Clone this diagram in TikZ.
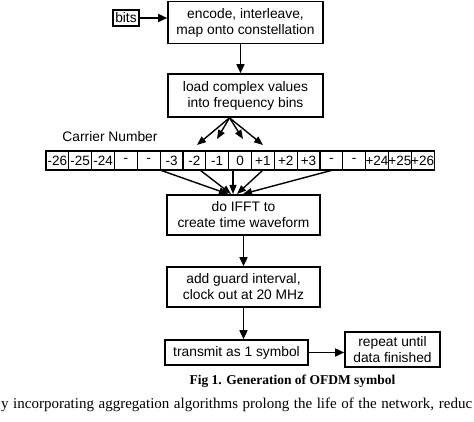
\documentclass[tikz,border=0pt]{standalone}
\usepackage{fontspec}
\setmainfont{Liberation Sans}
\newfontfamily\capfont{Liberation Serif}
\usetikzlibrary{arrows.meta,calc}
\tikzset{
  box/.style={draw, line width=1.6pt, align=center, inner sep=0pt, font=\fontsize{13.8}{16}\selectfont},
  cell/.style={draw, line width=1.2pt, minimum width=22.83pt, minimum height=19pt, inner sep=0pt, font=\fontsize{13.5}{15}\selectfont},
  arr/.style={line width=1.6pt, -{Triangle[length=9pt,width=8pt]}},
  fan/.style={line width=1.4pt, -{Triangle[length=9pt,width=7pt]}}
}
\begin{document}
\begin{tikzpicture}[x=1pt,y=-1pt]
\useasboundingbox (0,0) rectangle (474,422);
\fill[white] (0,0) rectangle (474,422);

\node[box, minimum width=26pt, minimum height=16pt, line width=1.3pt] (bits) at (126,18) {bits};
\node[box, minimum width=155pt, minimum height=42pt] (encode) at (245.5,22.5) {encode, interleave,\\map onto constellation};
\node[box, minimum width=155pt, minimum height=43pt] (load) at (245.5,95.5) {load complex values\\into frequency bins};
\node[box, minimum width=153pt, minimum height=40pt] (ifft) at (243.5,215) {do IFFT to\\create time waveform};
\node[box, minimum width=153pt, minimum height=40pt] (guard) at (243.5,287) {add guard interval,\\clock out at 20 MHz};
\node[box, minimum width=143pt, minimum height=25pt] (transmit) at (236.5,352.5) {transmit as 1 symbol};
\node[box, minimum width=95pt, minimum height=35pt] (repeat) at (392.5,349.5) {repeat until\\data finished};

\node[font=\fontsize{13.8}{16}\selectfont] (cn) at (110,137) {Carrier Number};

\foreach \lab [count=\i] in {-26,-25,-24,-,-,-3,-2,-1,0,+1,+2,+3,\raisebox{-0.45ex}{-},\raisebox{-0.45ex}{-},+24,+25,+26}
  \node[cell] (c\i) at ({46+22.83*(\i-0.5)},160.5) {\lab};

% arrows
\draw[arr] (bits.east) -- (bits.east -| encode.west);
\draw[arr] ($(encode.south)+(-5,0)$) -- ($(load.north)+(-5,0)$);
\draw[arr] (ifft.south) -- (guard.north);
\draw[arr] (guard.south) -- (guard.south |- transmit.north);
\draw[arr] (transmit.east) -- (transmit.east -| repeat.west);

% upper fan
\coordinate (u0) at ($(load.south)+(-16,0)$);
\coordinate (u1) at (197,145);
\coordinate (u2) at (217,139);
\coordinate (u3) at (243,139);
\coordinate (u4) at (263,145);
\foreach \k in {1,...,4} \draw[fan] (u0) -- (u\k);

% lower fan
\coordinate (d1) at (160,170);
\coordinate (d2) at (200,170);
\coordinate (d3) at (233,170);
\coordinate (d4) at (263,170);
\coordinate (d5) at (333,170);
\coordinate (e1) at (228,194);
\coordinate (e2) at (231,194);
\coordinate (e3) at (233,194);
\coordinate (e4) at (237,194);
\coordinate (e5) at (243,194);
\foreach \k in {1,...,5} \draw[fan] (d\k) -- (e\k);

\node[font=\capfont\bfseries\fontsize{13.5}{15}\selectfont] (cap) at (292.5,381) {Fig 1. Generation of OFDM symbol};
\node[anchor=west, inner sep=0pt, font=\capfont\fontsize{15}{17}\selectfont] (body) at (1,405)
  {\makebox[471pt][s]{y incorporating aggregation algorithms prolong the life of the network, reduc}};
\end{tikzpicture}
\end{document}
